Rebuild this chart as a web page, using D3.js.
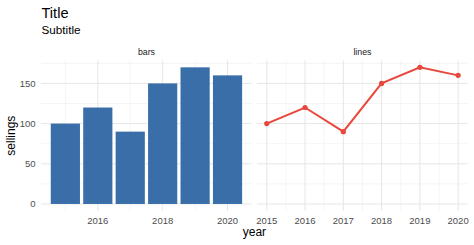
<!DOCTYPE html>
<html>
<head>
<meta charset="utf-8">
<script src="https://cdn.jsdelivr.net/npm/d3@7"></script>
<style>
	body { margin: 0; background: #fff; }
	text { font-family: "Liberation Sans", Arial, sans-serif; }
</style>
</head>
<body>
<svg id="chart"></svg>
<script>
var years = [2015, 2016, 2017, 2018, 2019, 2020]
var sellings = [100, 120, 90, 150, 170, 160]
var yTicks = [0, 50, 100, 150]
var yMinor = [25, 75, 125, 175]
var barTicks = [2016, 2018, 2020]
var barMinor = [2015, 2017, 2019]
var lineTicks = [2015, 2016, 2017, 2018, 2019, 2020]
var lineMinor = [2015.5, 2016.5, 2017.5, 2018.5, 2019.5]

var dim = {
	width: 474,
	height: 245,
	top: 60.5,
	bottom: 210.8,
	panelW: 210.5,
	left1: 41.2,
	left2: 257.2
}

var svg = d3.select('#chart')
	.attr('width', dim.width)
	.attr('height', dim.height)

var y = d3.scaleLinear()
	.domain([-8.5, 178.5])
	.range([dim.bottom, dim.top])

var xBar = d3.scaleLinear()
	.domain([2014.255, 2020.745])
	.range([dim.left1, dim.left1 + dim.panelW])

var xLine = d3.scaleLinear()
	.domain([2014.75, 2020.25])
	.range([dim.left2, dim.left2 + dim.panelW])

function grid(x, majorX, minorX) {
	var g = svg.append('g')
	var x0 = x.range()[0], x1 = x.range()[1]
	g.selectAll('.ymin').data(yMinor).enter().append('line')
		.attr('x1', x0).attr('x2', x1)
		.attr('y1', d => y(d)).attr('y2', d => y(d))
		.attr('stroke', '#efefef').attr('stroke-width', 0.6)
	g.selectAll('.xmin').data(minorX).enter().append('line')
		.attr('x1', d => x(d)).attr('x2', d => x(d))
		.attr('y1', dim.top).attr('y2', dim.bottom)
		.attr('stroke', '#efefef').attr('stroke-width', 0.6)
	g.selectAll('.ymaj').data(yTicks).enter().append('line')
		.attr('x1', x0).attr('x2', x1)
		.attr('y1', d => y(d)).attr('y2', d => y(d))
		.attr('stroke', '#e6e6e6').attr('stroke-width', 1)
	g.selectAll('.xmaj').data(majorX).enter().append('line')
		.attr('x1', d => x(d)).attr('x2', d => x(d))
		.attr('y1', dim.top).attr('y2', dim.bottom)
		.attr('stroke', '#e6e6e6').attr('stroke-width', 1)
	// x tick labels
	g.selectAll('.xl').data(majorX).enter().append('text')
		.attr('x', d => x(d)).attr('y', 223.5)
		.attr('text-anchor', 'middle')
		.attr('font-size', 9.5).attr('fill', '#4d4d4d')
		.text(d => d)
}

grid(xBar, barTicks, barMinor)
grid(xLine, lineTicks, lineMinor)

// y tick labels
svg.append('g').selectAll('text').data(yTicks).enter().append('text')
	.attr('x', 35.5).attr('y', d => y(d) + 3.4)
	.attr('text-anchor', 'end')
	.attr('font-size', 9.5).attr('fill', '#4d4d4d')
	.text(d => d)

// bars
var bw = (xBar(2016) - xBar(2015)) * 0.9
svg.append('g').selectAll('rect').data(years).enter().append('rect')
	.attr('x', d => xBar(d) - bw / 2)
	.attr('y', (d, i) => y(sellings[i]))
	.attr('width', bw)
	.attr('height', (d, i) => y(0) - y(sellings[i]))
	.attr('fill', '#3a6ea8')

// line
var line = d3.line()
	.x(d => xLine(d[0]))
	.y(d => y(d[1]))
var pts = years.map((d, i) => [d, sellings[i]])
svg.append('path')
	.datum(pts)
	.attr('d', line)
	.attr('fill', 'none')
	.attr('stroke', '#e8473b')
	.attr('stroke-width', 2)
svg.append('g').selectAll('circle').data(pts).enter().append('circle')
	.attr('cx', d => xLine(d[0]))
	.attr('cy', d => y(d[1]))
	.attr('r', 2.6)
	.attr('fill', '#e8473b')

// strip labels
svg.append('text')
	.attr('x', dim.left1 + dim.panelW / 2).attr('y', 55)
	.attr('text-anchor', 'middle').attr('font-size', 8.8).attr('fill', '#1a1a1a')
	.text('bars')
svg.append('text')
	.attr('x', dim.left2 + dim.panelW / 2).attr('y', 55)
	.attr('text-anchor', 'middle').attr('font-size', 8.8).attr('fill', '#1a1a1a')
	.text('lines')

// titles
svg.append('text')
	.attr('x', 41.5).attr('y', 17.5)
	.attr('font-size', 14.6).attr('fill', '#000')
	.text('Title')
svg.append('text')
	.attr('x', 41.5).attr('y', 33.5)
	.attr('font-size', 11.7).attr('fill', '#000')
	.text('Subtitle')

// axis titles
svg.append('text')
	.attr('x', (dim.left1 + dim.left2 + dim.panelW) / 2).attr('y', 235.5)
	.attr('text-anchor', 'middle').attr('font-size', 12).attr('fill', '#000')
	.text('year')
svg.append('text')
	.attr('transform', 'translate(15,' + (dim.top + dim.bottom) / 2 + ') rotate(-90)')
	.attr('text-anchor', 'middle').attr('font-size', 12).attr('fill', '#000')
	.text('sellings')
</script>
</body>
</html>
